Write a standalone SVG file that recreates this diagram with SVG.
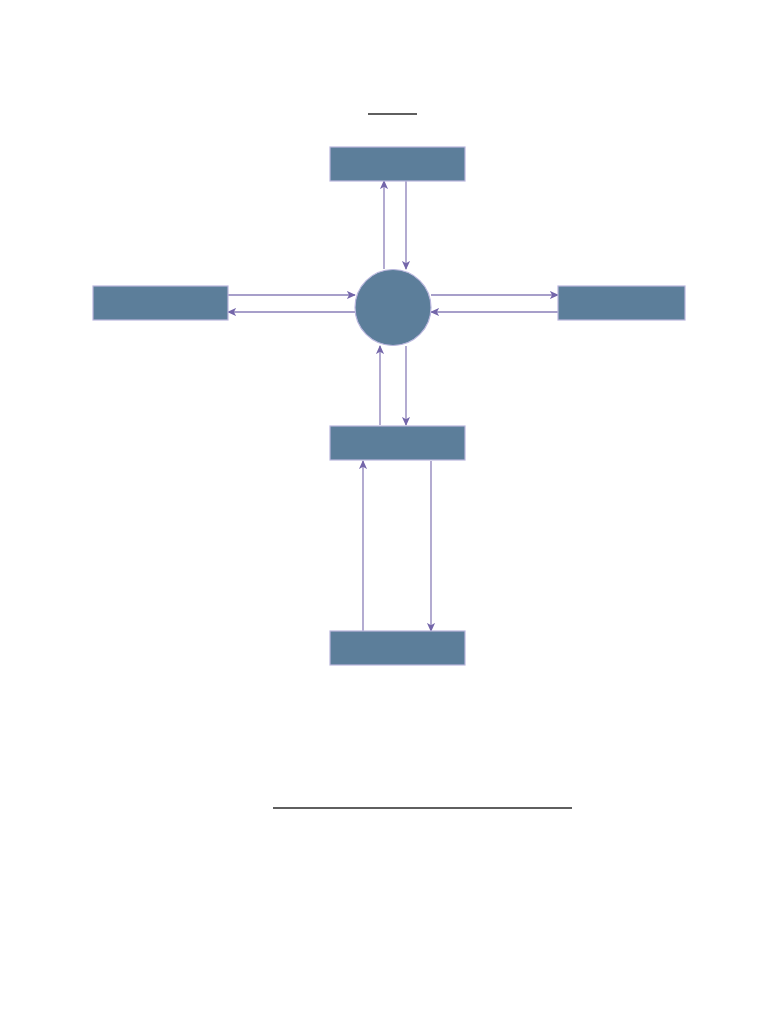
<svg xmlns="http://www.w3.org/2000/svg" width="768" height="1024" viewBox="0 0 768 1024">
<style>
.box{fill:#5c7e9a;stroke:#b9b6dd;stroke-width:1.2}
.conn{stroke:#8a7fb8;stroke-width:1.3;fill:none;marker-end:url(#ah)}
.rule{stroke:#2a2a2a;stroke-width:1.4}
</style>
<defs>
<marker id="ah" viewBox="0 0 10 10" refX="9" refY="5" markerWidth="9" markerHeight="9" markerUnits="userSpaceOnUse" orient="auto">
<path d="M0,0.5 L10,5 L0,9.5 L2.5,5 z" fill="#7466aa"/>
</marker>
</defs>
<rect width="768" height="1024" fill="#fff"/>
<line class="rule" x1="368" y1="114" x2="417" y2="114"/>
<line class="rule" x1="273" y1="808" x2="572" y2="808"/>
<g id="connectors">
<line class="conn" x1="384" y1="269" x2="384" y2="181"/>
<line class="conn" x1="406" y1="181" x2="406" y2="269"/>
<line class="conn" x1="228" y1="295" x2="355" y2="295"/>
<line class="conn" x1="355" y1="312" x2="228" y2="312"/>
<line class="conn" x1="431" y1="295" x2="558" y2="295"/>
<line class="conn" x1="558" y1="312" x2="431" y2="312"/>
<line class="conn" x1="380" y1="425" x2="380" y2="346"/>
<line class="conn" x1="406" y1="346" x2="406" y2="425"/>
<line class="conn" x1="363" y1="631" x2="363" y2="461"/>
<line class="conn" x1="431" y1="461" x2="431" y2="631"/>
</g>
<g id="top"><rect class="box" x="330" y="147" width="135" height="34"/></g>
<g id="left"><rect class="box" x="93" y="286" width="135" height="34"/></g>
<g id="right"><rect class="box" x="558" y="286" width="127" height="34"/></g>
<g id="center"><circle class="box" cx="393" cy="307.5" r="38"/></g>
<g id="middle"><rect class="box" x="330" y="426" width="135" height="34"/></g>
<g id="bottom"><rect class="box" x="330" y="631" width="135" height="34"/></g>
</svg>
